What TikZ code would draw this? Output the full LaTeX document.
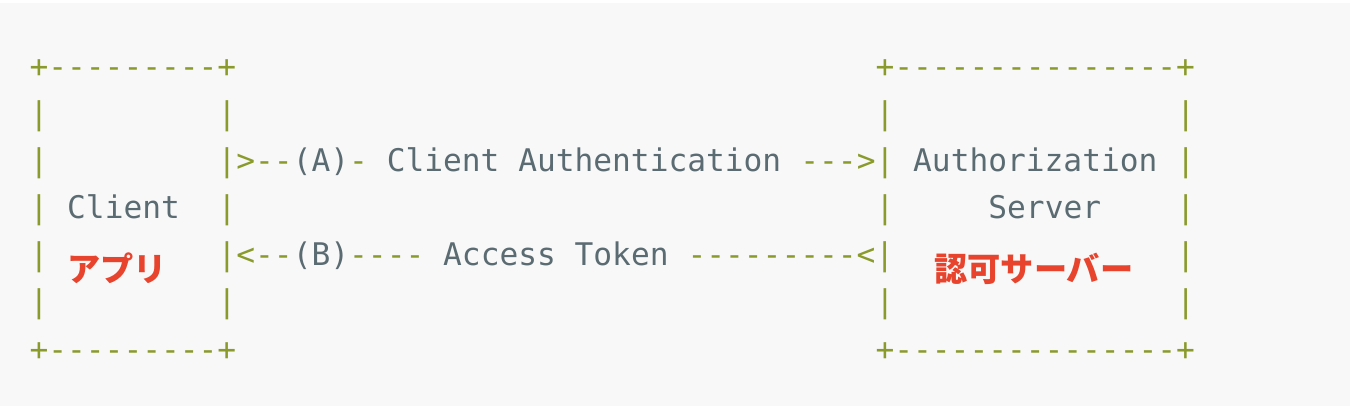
\documentclass[tikz,border=0pt]{standalone}
\usepackage{fontspec}
\newfontfamily\mono{DejaVu Sans Mono}[Ligatures=TeXOff]
\newfontfamily\cjk{Noto Sans CJK JP}
\definecolor{bg}{HTML}{F8F8F8}
\definecolor{punct}{HTML}{8A9A2B}
\definecolor{txt}{HTML}{5B6B72}
\definecolor{jred}{HTML}{E8432C}
\tikzset{
  asc/.style={anchor=base west, inner sep=0pt, outer sep=0pt, font=\mono\fontsize{15.6pt}{15.6pt}\selectfont},
  pc/.style={asc, text=punct},
  tx/.style={asc, text=txt},
  jp/.style={anchor=base west, inner sep=0pt, text=jred, font=\cjk\bfseries\fontsize{16.6pt}{16.6pt}\selectfont}
}
% column / row -> position
\newcommand\at[2]{({14.8pt+#1*9.4pt},{-39pt-#2*23.5pt})}
\begin{document}
\begin{tikzpicture}[x=1pt,y=1pt]
\fill[white] (0,0) rectangle (675,-203);
\fill[bg] (0,-1.5) rectangle (675,-203);
\useasboundingbox (0,0) rectangle (675,-203);
% row 0
\node[pc] (r0a) at \at{0}{0} {+---------+};
\node[pc] (r0b) at \at{45}{0} {+---------------+};
% row 1
\node[pc] (r1a) at \at{0}{1} {|};
\node[pc] (r1b) at \at{10}{1} {|};
\node[pc] (r1c) at \at{45}{1} {|};
\node[pc] (r1d) at \at{61}{1} {|};
% row 2
\node[pc] (r2a) at \at{0}{2} {|};
\node[pc] (r2b) at \at{10}{2} {|>--};
\node[tx] (r2c) at \at{14}{2} {(A)};
\node[pc] (r2d) at \at{17}{2} {-};
\node[tx] (r2e) at \at{19}{2} {Client Authentication};
\node[pc] (r2f) at \at{41}{2} {--->|};
\node[tx] (r2g) at \at{47}{2} {Authorization};
\node[pc] (r2h) at \at{61}{2} {|};
% row 3
\node[pc] (r3a) at \at{0}{3} {|};
\node[tx] (r3b) at \at{2}{3} {Client};
\node[pc] (r3c) at \at{10}{3} {|};
\node[pc] (r3d) at \at{45}{3} {|};
\node[tx] (r3e) at \at{51}{3} {Server};
\node[pc] (r3f) at \at{61}{3} {|};
% row 4
\node[pc] (r4a) at \at{0}{4} {|};
\node[pc] (r4b) at \at{10}{4} {|<--};
\node[tx] (r4c) at \at{14}{4} {(B)};
\node[pc] (r4d) at \at{17}{4} {----};
\node[tx] (r4e) at \at{22}{4} {Access Token};
\node[pc] (r4f) at \at{35}{4} {---------<|};
\node[pc] (r4g) at \at{61}{4} {|};
% row 5
\node[pc] (r5a) at \at{0}{5} {|};
\node[pc] (r5b) at \at{10}{5} {|};
\node[pc] (r5c) at \at{45}{5} {|};
\node[pc] (r5d) at \at{61}{5} {|};
% row 6
\node[pc] (r6a) at \at{0}{6} {+---------+};
\node[pc] (r6b) at \at{45}{6} {+---------------+};
% Japanese labels
\node[jp] (app) at (33.5,-140.8) {アプリ};
\node[jp] (srv) at (467,-140.8) {認可サーバー};
\end{tikzpicture}
\end{document}
